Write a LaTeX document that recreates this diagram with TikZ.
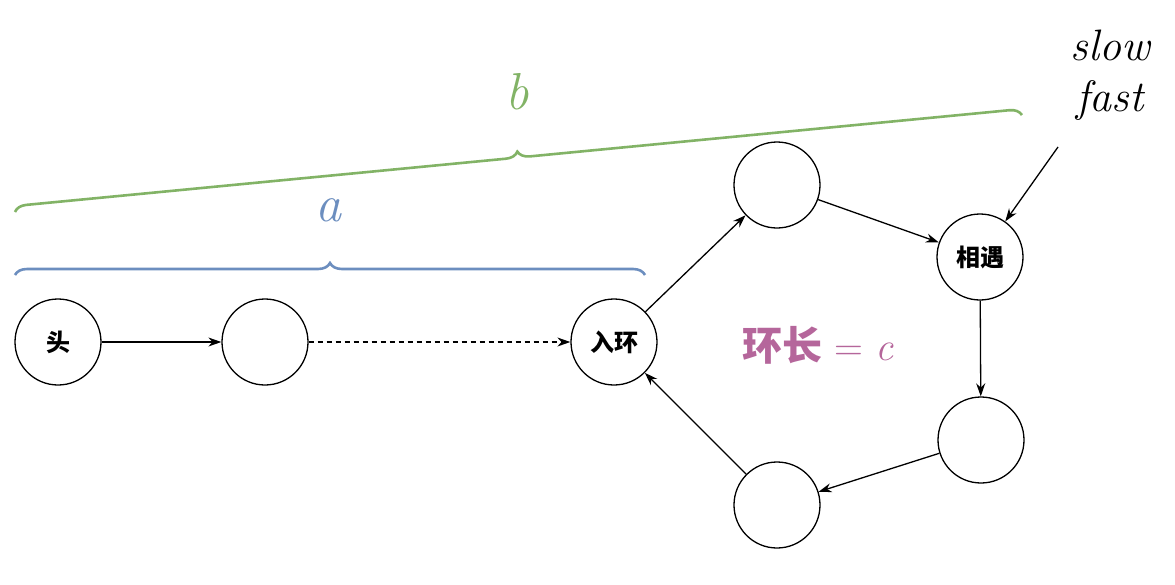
\documentclass[tikz,border=0pt]{standalone}
\usepackage{fontspec}
\newfontfamily\cjk{Noto Sans CJK SC}
\usetikzlibrary{decorations.pathreplacing,arrows.meta}
\definecolor{bblue}{RGB}{108,142,191}
\definecolor{bgreen}{RGB}{130,179,102}
\definecolor{ppl}{RGB}{181,102,155}
\begin{document}
\begin{tikzpicture}[x=1pt,y=-1pt,
  nd/.style={circle,draw,line width=1.3pt,minimum size=86pt,inner sep=0pt,font=\cjk\bfseries\fontsize{24}{24}\selectfont},
  ar/.style={-{Stealth[length=13pt,width=9pt]},line width=1.3pt},
  br/.style={decorate,decoration={brace,amplitude=12pt},line width=2.6pt}]
\useasboundingbox (0,0) rectangle (1175,584);
\node[nd] (h) at (58,342) {头};
\node[nd] (e) at (265,342) {};
\node[nd] (r) at (614,342) {入环};
\node[nd] (t) at (777,185) {};
\node[nd] (m) at (980,257) {相遇};
\node[nd] (rb) at (981,440) {};
\node[nd] (bt) at (777,505) {};
\draw[ar] (h) -- (e);
\draw[ar,dash pattern=on 5pt off 4pt] (e) -- (r);
\draw[ar] (r) -- (t);
\draw[ar] (t) -- (m);
\draw[ar] (m) -- (rb);
\draw[ar] (rb) -- (bt);
\draw[ar] (bt) -- (r);
\node[text=ppl,font=\fontsize{40}{40}\selectfont] (L) at (818,345) {{\cjk\bfseries 环长} = {\itshape c}};
\coordinate (a1) at (15,275); \coordinate (a2) at (645,275);
\draw[br,bblue] (a1) -- (a2);
\node[text=bblue,font=\itshape\fontsize{52}{52}\selectfont] (la) at (328,210) {a};
\coordinate (b1) at (15,212); \coordinate (b2) at (1022,115);
\draw[br,bgreen] (b1) -- (b2);
\node[text=bgreen,font=\itshape\fontsize{52}{52}\selectfont] (lb) at (517,92) {b};
\node[font=\itshape\fontsize{44}{44}\selectfont] (s) at (1110,45) {slow};
\node[font=\itshape\fontsize{44}{44}\selectfont] (f) at (1110,100) {fast};
\coordinate (p) at (1058,147);
\draw[ar] (p) -- (m);
\end{tikzpicture}
\end{document}
